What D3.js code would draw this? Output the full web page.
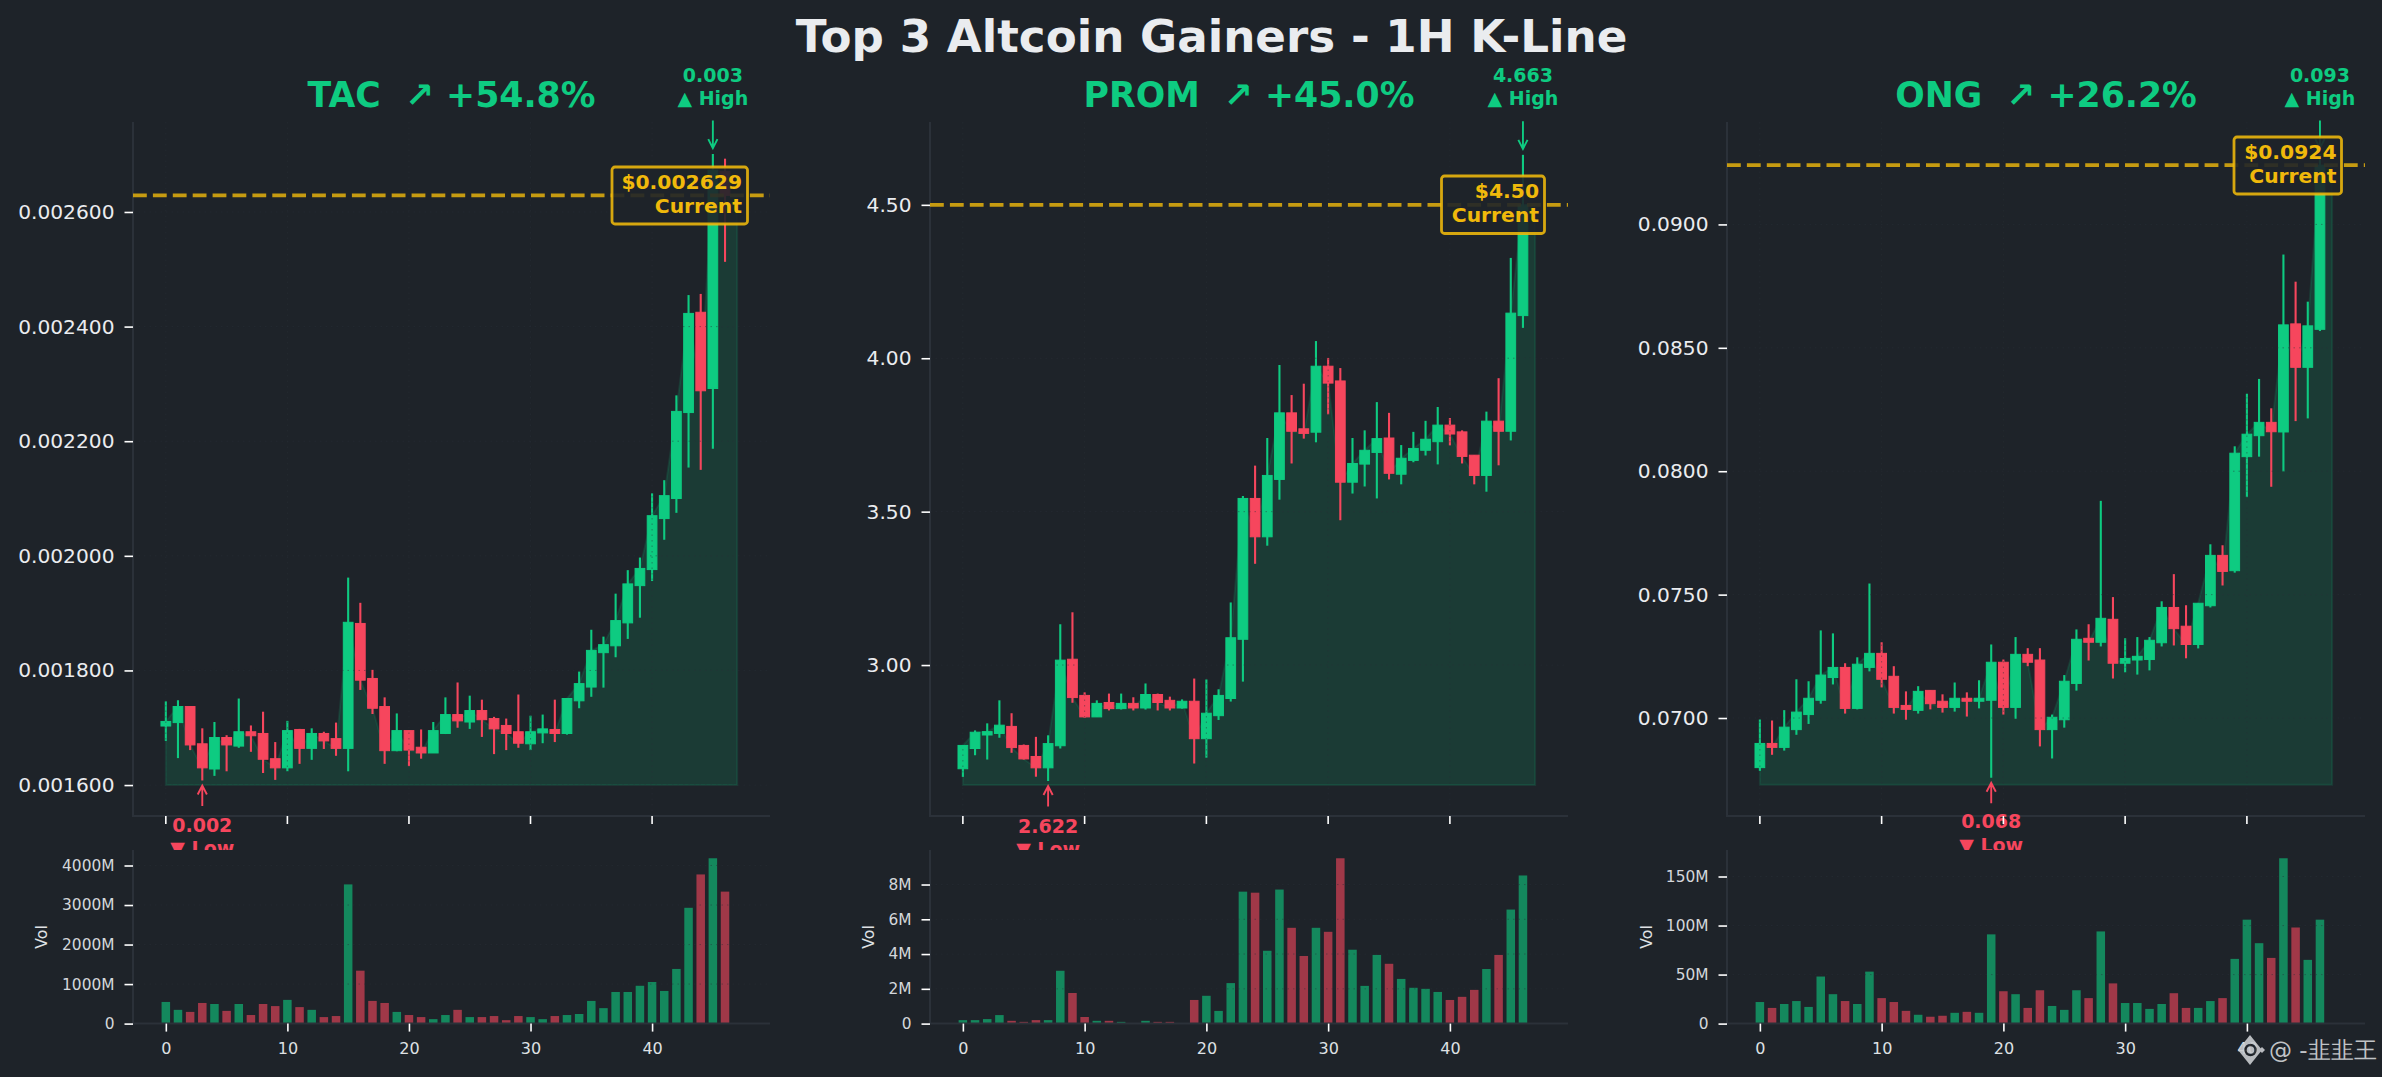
<!DOCTYPE html>
<html><head><meta charset="utf-8">
<script src="https://cdn.jsdelivr.net/npm/d3@7/dist/d3.min.js"></script>
<style>html,body{margin:0;padding:0;background:#1e2329;overflow:hidden}svg{display:block}text{font-family:"DejaVu Sans",sans-serif;white-space:pre}</style>
</head><body><svg id="c" width="2382" height="1077"></svg>
<script>
// ---------- TAC ----------
const tacOpen=[0.001703,0.001709,0.001737,0.001672,0.001628,0.001683,0.001668,0.001693,0.001690,0.001646,0.001630,0.001697,0.001664,0.001690,0.001681,0.001664,0.001882,0.001786,0.001737,0.001660,0.001695,0.001666,0.001656,0.001690,0.001723,0.001710,0.001730,0.001716,0.001704,0.001693,0.001672,0.001691,0.001697,0.001690,0.001747,0.001771,0.001831,0.001843,0.001883,0.001948,0.001976,0.002065,0.002100,0.002250,0.002425,0.002292,0.002671];
const tacHigh=[0.001746,0.001748,0.001737,0.001699,0.001710,0.001687,0.001751,0.001704,0.001728,0.001675,0.001712,0.001698,0.001699,0.001693,0.001709,0.001962,0.001918,0.001801,0.001753,0.001725,0.001695,0.001697,0.001710,0.001753,0.001779,0.001756,0.001749,0.001719,0.001716,0.001758,0.001721,0.001723,0.001749,0.001751,0.001798,0.001871,0.001859,0.001934,0.001975,0.001997,0.002109,0.002132,0.002280,0.002455,0.002457,0.002701,0.002693];
const tacLow=[0.001677,0.001647,0.001661,0.001608,0.001616,0.001624,0.001665,0.001658,0.001621,0.001609,0.001624,0.001637,0.001644,0.001663,0.001651,0.001624,0.001766,0.001724,0.001637,0.001659,0.001633,0.001646,0.001656,0.001689,0.001700,0.001698,0.001684,0.001654,0.001661,0.001665,0.001661,0.001673,0.001675,0.001688,0.001734,0.001754,0.001770,0.001823,0.001855,0.001892,0.001956,0.002028,0.002075,0.002154,0.002150,0.002187,0.002513];
const tacClose=[0.001711,0.001737,0.001670,0.001630,0.001683,0.001670,0.001693,0.001686,0.001645,0.001630,0.001695,0.001664,0.001690,0.001677,0.001664,0.001884,0.001783,0.001734,0.001660,0.001695,0.001661,0.001656,0.001695,0.001723,0.001712,0.001730,0.001714,0.001698,0.001690,0.001673,0.001693,0.001698,0.001690,0.001751,0.001777,0.001835,0.001845,0.001887,0.001951,0.001978,0.002070,0.002105,0.002252,0.002423,0.002288,0.002673,0.002629];
const tacVolume=[548,348,296,522,496,322,496,217,496,443,600,417,348,165,191,3522,1339,574,522,296,217,165,113,217,348,165,165,191,87,191,165,113,191,217,243,574,391,800,800,957,1052,826,1383,2930,3774,4183,3339];
const tacPriceTicks=[0.0016,0.0018,0.0020,0.0022,0.0024,0.0026];
const tacVolumeTicks=[0,1000,2000,3000,4000];
// ---------- PROM ----------
const promOpen=[2.662,2.728,2.772,2.777,2.800,2.738,2.702,2.665,2.737,3.019,2.901,2.831,2.878,2.858,2.875,2.860,2.904,2.885,2.860,2.882,2.760,2.835,2.891,3.084,3.543,3.418,3.605,3.822,3.770,3.759,3.974,3.926,3.596,3.655,3.693,3.740,3.622,3.667,3.700,3.728,3.782,3.760,3.684,3.618,3.795,3.762,4.139];
const promHigh=[2.738,2.787,2.810,2.885,2.843,2.741,2.766,2.771,3.133,3.172,2.911,2.885,2.907,2.907,2.895,2.940,2.907,2.897,2.888,2.956,2.953,2.921,3.204,3.551,3.650,3.740,3.978,3.880,3.917,4.056,4.001,3.968,3.740,3.765,3.857,3.822,3.717,3.760,3.796,3.841,3.805,3.765,3.684,3.826,3.935,4.327,4.663];
const promLow=[2.635,2.706,2.692,2.763,2.714,2.692,2.636,2.622,2.728,2.877,2.828,2.831,2.852,2.855,2.852,2.855,2.852,2.852,2.858,2.679,2.698,2.821,2.881,2.946,3.330,3.389,3.539,3.657,3.738,3.726,3.817,3.472,3.559,3.582,3.543,3.605,3.589,3.661,3.683,3.654,3.716,3.657,3.589,3.565,3.651,3.732,4.099];
const promClose=[2.738,2.781,2.783,2.804,2.731,2.694,2.665,2.744,3.016,2.894,2.831,2.875,2.858,2.875,2.860,2.904,2.878,2.860,2.882,2.760,2.843,2.901,3.089,3.543,3.418,3.618,3.822,3.762,3.755,3.974,3.919,3.596,3.657,3.700,3.738,3.625,3.674,3.706,3.736,3.782,3.753,3.680,3.618,3.795,3.762,4.147,4.500];
const promVolume=[0.20,0.20,0.26,0.49,0.16,0.10,0.20,0.20,3.04,1.76,0.38,0.16,0.16,0.10,0.03,0.16,0.10,0.10,0.03,1.36,1.60,0.73,2.33,7.59,7.53,4.19,7.71,5.51,3.89,5.51,5.28,9.51,4.25,2.17,3.95,3.44,2.57,2.06,2.00,1.82,1.36,1.54,1.94,3.14,3.95,6.56,8.52];
const promPriceTicks=[3.0,3.5,4.0,4.5];
const promVolumeTicks=[0,2,4,6,8];
// ---------- ONG ----------
const ongOpen=[0.06799,0.06897,0.06881,0.06953,0.07014,0.07072,0.07164,0.07205,0.07039,0.07205,0.07262,0.07169,0.07051,0.07031,0.07112,0.07068,0.07043,0.07080,0.07068,0.07072,0.07226,0.07043,0.07258,0.07235,0.06953,0.06993,0.07140,0.07323,0.07307,0.07400,0.07222,0.07235,0.07237,0.07305,0.07448,0.07372,0.07298,0.07455,0.07659,0.07597,0.08059,0.08144,0.08198,0.08159,0.08597,0.08421,0.08575];
const ongHigh=[0.06994,0.06990,0.07032,0.07157,0.07149,0.07355,0.07343,0.07222,0.07246,0.07545,0.07307,0.07210,0.07108,0.07129,0.07112,0.07096,0.07144,0.07104,0.07153,0.07298,0.07237,0.07328,0.07283,0.07283,0.07014,0.07174,0.07359,0.07380,0.07880,0.07490,0.07323,0.07328,0.07328,0.07473,0.07583,0.07457,0.07465,0.07704,0.07700,0.08101,0.08314,0.08374,0.08255,0.08878,0.08768,0.08687,0.09285];
const ongLow=[0.06786,0.06851,0.06868,0.06932,0.06976,0.07058,0.07136,0.07018,0.07035,0.07189,0.07124,0.07018,0.06993,0.07018,0.07035,0.07022,0.07026,0.07006,0.07039,0.06758,0.07014,0.06997,0.07210,0.06885,0.06836,0.06961,0.07111,0.07233,0.07290,0.07160,0.07185,0.07176,0.07193,0.07290,0.07294,0.07242,0.07282,0.07448,0.07537,0.07589,0.07895,0.08059,0.07937,0.07999,0.08203,0.08214,0.08568];
const ongClose=[0.06897,0.06881,0.06963,0.07024,0.07080,0.07174,0.07205,0.07039,0.07218,0.07262,0.07157,0.07043,0.07035,0.07108,0.07058,0.07043,0.07080,0.07068,0.07080,0.07226,0.07043,0.07258,0.07226,0.06953,0.07003,0.07149,0.07319,0.07307,0.07404,0.07222,0.07241,0.07250,0.07315,0.07448,0.07362,0.07298,0.07465,0.07659,0.07594,0.08073,0.08150,0.08198,0.08160,0.08593,0.08421,0.08589,0.09240];
const ongVolume=[22,16,20,23,17,48,30,23,20,53,26,22,13,9,7,8,11,12,11,91,33,30,16,34,18,14,34,26,94,41,21,21,15,20,31,16,16,23,26,66,106,82,67,168.6,98,65,106];
const ongPriceTicks=[0.070,0.075,0.080,0.085,0.090];
const ongVolumeTicks=[0,50,100,150];
// ---------- shared ----------
const volumeXTicks=[0,10,20,30,40];
const coinNames=["TAC","PROM","ONG"];
const gainLabels=["+54.8%","+45.0%","+26.2%"];
const highLabels=["0.003","4.663","0.093"];
const lowLabels=["0.002","2.622","0.068"];
const currentLabels=["$0.002629","$4.50","$0.0924"];
const currentPrices=[0.002629,4.50,0.0924];
const areaBases=[0.0016,2.609,0.0673];
const chartTitle="Top 3 Altcoin Gainers - 1H K-Line";

const GREEN="#0ecb81",RED="#f6465d",GOLD="#f0b90b",BG="#1e2329",SPINE="#2b3139",TXT="#eaecef";
const svg=d3.select("#c");
svg.append("rect").attr("width",2382).attr("height",1077).attr("fill",BG);
svg.append("text").attr("x",1211.5).attr("y",51.5).attr("text-anchor","middle").attr("font-size",45.2).attr("font-weight",700).attr("fill",TXT).text(chartTitle);

const layout=[
 {left:133,right:770,open:tacOpen,high:tacHigh,low:tacLow,close:tacClose,vol:tacVolume,yd:[0.001546,0.002757],pt:tacPriceTicks,vt:tacVolumeTicks,pf:d3.format(".6f"),
  box:{x0:612,x1:747.5,y0:167,y1:224,tx:742},lowBase:832,volLabelX:41},
 {left:930,right:1568,open:promOpen,high:promHigh,low:promLow,close:promClose,vol:promVolume,yd:[2.508,4.77],pt:promPriceTicks,vt:promVolumeTicks,pf:d3.format(".2f"),
  box:{x0:1441.5,x1:1544.5,y0:176,y1:233.5,tx:1539},lowBase:833,volLabelX:868},
 {left:1727,right:2365,open:ongOpen,high:ongHigh,low:ongLow,close:ongClose,vol:ongVolume,yd:[0.06603,0.09415],pt:ongPriceTicks,vt:ongVolumeTicks,pf:d3.format(".4f"),
  box:{x0:2234,x1:2341.5,y0:137,y1:194,tx:2336.5},lowBase:828.4,volLabelX:1646}
];
const T=122,B=816,VT=850,VB=1023.6;

function arrow(g,x,y0,y1,color){ // tail y0 -> tip y1
  const d=y1>y0?-1:1;
  g.append("path").attr("fill","none").attr("stroke",color).attr("stroke-width",1.9).attr("stroke-linejoin","miter")
   .attr("d",`M${x},${y0}L${x},${y1}M${x-4.6},${y1+d*9}L${x},${y1}L${x+4.6},${y1+d*9}`);
}

layout.forEach((p,k)=>{
  const n=p.close.length;
  const idx=d3.range(n);
  const x=d3.scaleLinear().domain([-2.7,49.7]).range([p.left,p.right]);
  const y=d3.scaleLinear().domain(p.yd).range([B,T]);
  const g=svg.append("g");

  // area (closes, held one step past the last candle)
  const areaPts=idx.map(i=>[i,p.close[i]]).concat([[n,p.close[n-1]]]);
  const area=d3.area().x(d=>x(d[0])).y0(y(areaBases[k])).y1(d=>y(d[1]));
  g.append("path").attr("d",area(areaPts)+"Z").attr("fill",GREEN).attr("fill-opacity",.15)
    .attr("stroke",GREEN).attr("stroke-opacity",.13).attr("stroke-width",2);

  // candles
  const cw=x(0.8)-x(0);
  idx.forEach(i=>{
    const up=p.close[i]>=p.open[i],c=up?GREEN:RED,cx=x(i);
    g.append("line").attr("x1",cx).attr("x2",cx).attr("y1",y(p.high[i])).attr("y2",y(p.low[i])).attr("stroke",c).attr("stroke-width",2.1);
    const a=y(Math.max(p.open[i],p.close[i])),b=y(Math.min(p.open[i],p.close[i]));
    g.append("rect").attr("x",cx-cw/2).attr("width",cw).attr("y",a).attr("height",Math.max(b-a,1)).attr("fill",c).attr("stroke",c).attr("stroke-width",1);
  });

  // grid
  const grid=g.append("g").attr("stroke",SPINE).attr("stroke-opacity",.45).attr("stroke-width",1).attr("stroke-dasharray","1.5,4");
  p.pt.forEach(t=>grid.append("line").attr("x1",p.left).attr("x2",p.right).attr("y1",y(t)).attr("y2",y(t)));
  volumeXTicks.forEach(t=>grid.append("line").attr("x1",x(t)).attr("x2",x(t)).attr("y1",T).attr("y2",B));

  // spines + y ticks
  g.append("path").attr("fill","none").attr("stroke",SPINE).attr("stroke-width",2).attr("d",`M${p.left},${T}L${p.left},${B}L${p.right},${B}`);
  const yAxis=d3.axisLeft(y).tickValues(p.pt).tickFormat(p.pf).tickSize(8.5).tickPadding(10);
  const ya=g.append("g").attr("transform",`translate(${p.left},0)`).call(yAxis);
  ya.select(".domain").remove();
  ya.selectAll("line").attr("stroke","#fff").attr("stroke-width",1.6);
  ya.selectAll("text").attr("fill",TXT).attr("font-size",20.2).attr("font-family","DejaVu Sans");

  // title
  g.append("text").attr("x",(p.left+p.right)/2).attr("y",107).attr("text-anchor","middle").attr("font-size",34.7).attr("font-weight",700).attr("fill",GREEN)
    .text(coinNames[k]+"  ↗ "+gainLabels[k]);

  // high
  const hi=d3.maxIndex(p.high),lo=d3.minIndex(p.low);
  const hx=x(hi),hy=y(p.high[hi]);
  arrow(g,hx,hy-33.5,hy-6,GREEN);
  g.append("text").attr("x",hx).attr("y",82).attr("text-anchor","middle").attr("font-size",19).attr("font-weight",700).attr("fill",GREEN).text(highLabels[k]);
  g.append("text").attr("x",hx).attr("y",105.3).attr("text-anchor","middle").attr("font-size",19).attr("font-weight",700).attr("fill",GREEN).text("▲ High");

  // low
  const lx=x(lo),ly=y(p.low[lo]);
  arrow(g,lx,ly+25.5,ly+5,RED);
  g.append("text").attr("x",lx).attr("y",p.lowBase).attr("text-anchor","middle").attr("font-size",19).attr("font-weight",700).attr("fill",RED).text(lowLabels[k]);
  g.append("text").attr("x",lx).attr("y",p.lowBase+23.3).attr("text-anchor","middle").attr("font-size",19).attr("font-weight",700).attr("fill",RED).text("▼ Low");

  // main x ticks (unlabelled)
  volumeXTicks.forEach(t=>g.append("line").attr("x1",x(t)).attr("x2",x(t)).attr("y1",B).attr("y2",B+8).attr("stroke","#fff").attr("stroke-width",1.6));

  // current price
  const cy=y(currentPrices[k]);
  g.append("line").attr("x1",p.left).attr("x2",p.right).attr("y1",cy).attr("y2",cy).attr("stroke",GOLD).attr("stroke-opacity",.8).attr("stroke-width",3.8).attr("stroke-dasharray","13.8,6.1");
  const b=p.box;
  g.append("rect").attr("x",b.x0).attr("y",b.y0).attr("width",b.x1-b.x0).attr("height",b.y1-b.y0).attr("rx",3).attr("fill",BG).attr("fill-opacity",.9)
    .attr("stroke",GOLD).attr("stroke-opacity",.88).attr("stroke-width",2.8);
  g.append("text").attr("x",b.tx).attr("y",b.y0+22).attr("text-anchor","end").attr("font-size",20.3).attr("font-weight",700).attr("fill",GOLD).text(currentLabels[k]);
  g.append("text").attr("x",b.tx).attr("y",b.y0+46).attr("text-anchor","end").attr("font-size",20.3).attr("font-weight",700).attr("fill",GOLD).text("Current");

  // ---- volume axes ----
  const v=d3.scaleLinear().domain([0,d3.max(p.vol)*1.05]).range([VB,VT]);
  g.append("rect").attr("x",p.left-1).attr("y",VT).attr("width",p.right-p.left+1).attr("height",VB-VT).attr("fill",BG);
  const bw=x(0.7)-x(0);
  idx.forEach(i=>{
    g.append("rect").attr("x",x(i)-bw/2).attr("width",bw).attr("y",v(p.vol[i])).attr("height",VB-v(p.vol[i]))
     .attr("fill",p.close[i]>=p.open[i]?GREEN:RED).attr("fill-opacity",.6);
  });
  const vgrid=g.append("g").attr("stroke",SPINE).attr("stroke-opacity",.45).attr("stroke-width",1).attr("stroke-dasharray","1.5,4");
  p.vt.filter(t=>t>0).forEach(t=>vgrid.append("line").attr("x1",p.left).attr("x2",p.right).attr("y1",v(t)).attr("y2",v(t)));
  g.append("path").attr("fill","none").attr("stroke",SPINE).attr("stroke-width",2).attr("d",`M${p.left},${VT}L${p.left},${VB}L${p.right},${VB}`);
  const vAxis=d3.axisLeft(v).tickValues(p.vt).tickFormat(t=>t===0?"0":t+"M").tickSize(8.5).tickPadding(10);
  const va=g.append("g").attr("transform",`translate(${p.left},0)`).call(vAxis);
  va.select(".domain").remove();
  va.selectAll("line").attr("stroke","#fff").attr("stroke-width",1.6);
  va.selectAll("text").attr("fill","#d4d7db").attr("font-size",15.4).attr("font-family","DejaVu Sans");
  const xAxis=d3.axisBottom(x).tickValues(volumeXTicks).tickFormat(d3.format("d")).tickSize(8).tickPadding(11);
  const xa=g.append("g").attr("transform",`translate(0,${VB})`).call(xAxis);
  xa.select(".domain").remove();
  xa.selectAll("line").attr("stroke","#fff").attr("stroke-width",1.6);
  xa.selectAll("text").attr("fill","#dfe1e4").attr("font-size",16).attr("font-family","DejaVu Sans");
  g.append("text").attr("transform",`translate(${p.volLabelX+5.5},937) rotate(-90)`).attr("text-anchor","middle").attr("font-size",15.7).attr("fill","#dfe1e4").text("Vol");
});

// watermark
const wm=svg.append("g").attr("opacity",.9);
wm.append("path").attr("fill","#c9ccd0").attr("d","M2250,1035L2262,1050L2250,1065L2238,1050Z");
wm.append("circle").attr("cx",2250.5).attr("cy",1050).attr("r",5).attr("fill","none").attr("stroke","#1e2329").attr("stroke-width",2.4);
wm.append("path").attr("fill","#c9ccd0").attr("d","M2262,1047L2265,1050L2262,1053L2259,1050Z");
wm.append("text").attr("x",2269).attr("y",1058).attr("font-size",23).attr("font-family","Noto Sans CJK SC").attr("fill","#d2d5d8").text("@ -韭韭王");
</script></body></html>
